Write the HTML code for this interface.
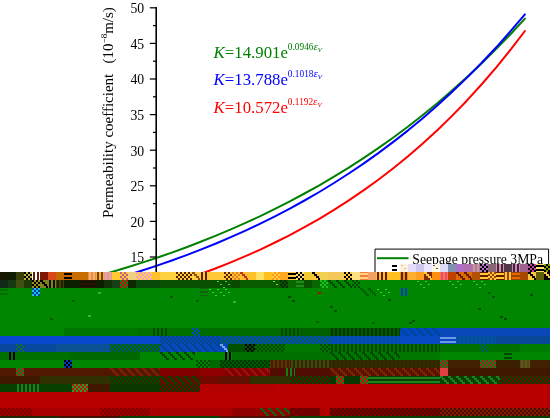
<!DOCTYPE html><html><head><meta charset="utf-8"><title>Permeability coefficient</title>
<style>html,body{margin:0;padding:0;background:#fff}svg{display:block}text{font-family:"Liberation Serif","Times New Roman",serif}</style></head><body>
<svg width="550" height="418" viewBox="0 0 550 418">
<rect width="550" height="418" fill="#fff"/>
<path d="M68.5 283.9 L83.2 280.1 L98.0 276.0 L112.7 271.7 L127.5 267.3 L142.2 262.6 L157.0 257.7 L171.8 252.6 L186.5 247.2 L201.3 241.5 L216.0 235.6 L230.8 229.4 L245.5 222.9 L260.3 216.1 L275.0 208.9 L289.8 201.4 L304.5 193.5 L319.3 185.3 L334.0 176.6 L348.8 167.6 L363.5 158.1 L378.3 148.1 L393.0 137.7 L407.8 126.7 L422.5 115.2 L437.3 103.2 L452.0 90.6 L466.8 77.3 L481.5 63.5 L496.3 48.9 L511.0 33.7 L524.9 18.6" fill="none" stroke="#008000" stroke-width="2" stroke-linejoin="round" stroke-linecap="round"/>
<path d="M68.5 291.5 L83.2 287.7 L98.0 283.7 L112.7 279.5 L127.5 275.1 L142.2 270.5 L157.0 265.6 L171.8 260.5 L186.5 255.1 L201.3 249.4 L216.0 243.5 L230.8 237.2 L245.5 230.6 L260.3 223.6 L275.0 216.3 L289.8 208.6 L304.5 200.5 L319.3 192.0 L334.0 183.0 L348.8 173.5 L363.5 163.6 L378.3 153.1 L393.0 142.1 L407.8 130.6 L422.5 118.4 L437.3 105.6 L452.0 92.1 L466.8 77.9 L481.5 63.0 L496.3 47.3 L511.0 30.7 L524.9 14.4" fill="none" stroke="#0000ff" stroke-width="2" stroke-linejoin="round" stroke-linecap="round"/>
<path d="M68.5 311.2 L83.2 307.9 L98.0 304.5 L112.7 300.9 L127.5 297.0 L142.2 292.9 L157.0 288.5 L171.8 283.9 L186.5 279.0 L201.3 273.8 L216.0 268.3 L230.8 262.4 L245.5 256.2 L260.3 249.6 L275.0 242.5 L289.8 235.1 L304.5 227.2 L319.3 218.8 L334.0 209.9 L348.8 200.4 L363.5 190.4 L378.3 179.8 L393.0 168.5 L407.8 156.5 L422.5 143.7 L437.3 130.2 L452.0 115.9 L466.8 100.7 L481.5 84.5 L496.3 67.3 L511.0 49.1 L524.9 31.0" fill="none" stroke="#ff0000" stroke-width="2" stroke-linejoin="round" stroke-linecap="round"/>
<path d="M156.2 7.3V290" stroke="#000" stroke-width="1.6" fill="none"/>
<path d="M149.8 7.8H157" stroke="#000" stroke-width="1.25"/>
<text x="144.2" y="13.1" font-size="13.7" text-anchor="end">50</text>
<path d="M153 25.6H157" stroke="#000" stroke-width="1.25"/>
<path d="M149.8 43.4H157" stroke="#000" stroke-width="1.25"/>
<text x="144.2" y="48.7" font-size="13.7" text-anchor="end">45</text>
<path d="M153 61.2H157" stroke="#000" stroke-width="1.25"/>
<path d="M149.8 79.0H157" stroke="#000" stroke-width="1.25"/>
<text x="144.2" y="84.3" font-size="13.7" text-anchor="end">40</text>
<path d="M153 96.8H157" stroke="#000" stroke-width="1.25"/>
<path d="M149.8 114.6H157" stroke="#000" stroke-width="1.25"/>
<text x="144.2" y="119.9" font-size="13.7" text-anchor="end">35</text>
<path d="M153 132.4H157" stroke="#000" stroke-width="1.25"/>
<path d="M149.8 150.2H157" stroke="#000" stroke-width="1.25"/>
<text x="144.2" y="155.5" font-size="13.7" text-anchor="end">30</text>
<path d="M153 168.0H157" stroke="#000" stroke-width="1.25"/>
<path d="M149.8 185.8H157" stroke="#000" stroke-width="1.25"/>
<text x="144.2" y="191.1" font-size="13.7" text-anchor="end">25</text>
<path d="M153 203.6H157" stroke="#000" stroke-width="1.25"/>
<path d="M149.8 221.4H157" stroke="#000" stroke-width="1.25"/>
<text x="144.2" y="226.7" font-size="13.7" text-anchor="end">20</text>
<path d="M153 239.2H157" stroke="#000" stroke-width="1.25"/>
<path d="M149.8 257.0H157" stroke="#000" stroke-width="1.25"/>
<text x="144.2" y="262.3" font-size="13.7" text-anchor="end">15</text>
<path d="M153 274.8H157" stroke="#000" stroke-width="1.25"/>
<text transform="translate(113.0 218.0) rotate(-90)" font-size="15">Permeability coefficient</text>
<text transform="translate(113.0 63.4) rotate(-90)" font-size="15">(10<tspan font-size="9" dy="-6">−8</tspan><tspan dy="6">m/s)</tspan></text>
<text x="213.6" y="57.5" font-size="16.8" fill="#008000"><tspan font-style="italic">K</tspan>=14.901e<tspan font-size="9.3" dy="-7.6">0.0946</tspan><tspan font-size="11" font-style="italic">ε</tspan><tspan font-size="6.8" font-style="italic" dy="1.8">V</tspan></text>
<text x="213.6" y="84.9" font-size="16.8" fill="#0000ff"><tspan font-style="italic">K</tspan>=13.788e<tspan font-size="9.3" dy="-7.6">0.1018</tspan><tspan font-size="11" font-style="italic">ε</tspan><tspan font-size="6.8" font-style="italic" dy="1.8">V</tspan></text>
<text x="213.6" y="112.7" font-size="16.8" fill="#ff0000"><tspan font-style="italic">K</tspan>=10.572e<tspan font-size="9.3" dy="-7.6">0.1192</tspan><tspan font-size="11" font-style="italic">ε</tspan><tspan font-size="6.8" font-style="italic" dy="1.8">V</tspan></text>
<path d="M375 272V249.1H548.6V272" fill="none" stroke="#000" stroke-width="1"/>
<path d="M377 258.2H408.5" stroke="#008000" stroke-width="2"/>
<text x="412.3" y="263.8" font-size="13.7">Seepage pressure 3MPa</text>
<rect x="392" y="264" width="5" height="8" fill="#ffffff"/>
<path d="M392 265h5v2h-5zM392 269h5v2h-5z" fill="#000000"/>
<rect x="397" y="264" width="3" height="8" fill="#ffffff"/>
<rect x="400" y="264" width="8" height="8" fill="#fff0d8"/>
<path d="M401 265h2v1h-2zM404 268h2v1h-2z" fill="#e8b0d0"/>
<rect x="408" y="264" width="8" height="8" fill="#e4dcf8"/>
<rect x="416" y="264" width="8" height="8" fill="#cfc6f0"/>
<rect x="424" y="264" width="8" height="8" fill="#ece6ff"/>
<rect x="432" y="264" width="8" height="8" fill="#fffae0"/>
<path d="M433 265h2v1h-2zM436 268h2v1h-2z" fill="#4050a0"/>
<rect x="440" y="264" width="8" height="8" fill="#dcdcf8"/>
<rect x="448" y="264" width="8" height="8" fill="#8090b0"/>
<rect x="456" y="264" width="8" height="8" fill="#b070c8"/>
<rect x="464" y="264" width="8" height="8" fill="#b070b0"/>
<rect x="472" y="264" width="8" height="8" fill="#b070c8"/>
<path d="M473 264h2v8h-2zM477 264h2v8h-2z" fill="#c8a070"/>
<rect x="480" y="264" width="8" height="8" fill="#b070c8"/>
<path d="M480 264h2v2h-2zM484 264h2v2h-2zM482 266h2v2h-2zM486 266h2v2h-2zM480 268h2v2h-2zM484 268h2v2h-2zM482 270h2v2h-2zM486 270h2v2h-2z" fill="#000000"/>
<rect x="488" y="264" width="8" height="8" fill="#886474"/>
<rect x="496" y="264" width="8" height="8" fill="#c898a8"/>
<path d="M497 264h2v8h-2zM501 264h2v8h-2z" fill="#502040"/>
<rect x="504" y="264" width="8" height="8" fill="#503848"/>
<rect x="512" y="264" width="8" height="8" fill="#c888a8"/>
<path d="M513 264h2v8h-2zM517 264h2v8h-2z" fill="#402048"/>
<rect x="520" y="264" width="8" height="8" fill="#a06090"/>
<rect x="528" y="264" width="8" height="8" fill="#c040a0"/>
<path d="M528 264h2v2h-2zM532 264h2v2h-2zM530 266h2v2h-2zM534 266h2v2h-2zM528 268h2v2h-2zM532 268h2v2h-2zM530 270h2v2h-2zM534 270h2v2h-2z" fill="#000000"/>
<rect x="536" y="264" width="8" height="8" fill="#ffe070"/>
<path d="M536 265h8v2h-8zM536 269h8v2h-8z" fill="#000000"/>
<rect x="544" y="264" width="6" height="8" fill="#000000"/>
<path d="M544 264h2v2h-2zM548 264h2v2h-2zM546 266h2v2h-2zM544 268h2v2h-2zM548 268h2v2h-2zM546 270h2v2h-2z" fill="#80a000"/>
<rect x="0" y="272" width="8" height="8" fill="#181800"/>
<rect x="8" y="272" width="8" height="8" fill="#0c1c00"/>
<rect x="16" y="272" width="8" height="8" fill="#384008"/>
<rect x="24" y="272" width="8" height="8" fill="#c0b040"/>
<path d="M24 272h2v2h-2zM28 272h2v2h-2zM26 274h2v2h-2zM30 274h2v2h-2zM24 276h2v2h-2zM28 276h2v2h-2zM26 278h2v2h-2zM30 278h2v2h-2z" fill="#000000"/>
<rect x="32" y="272" width="8" height="8" fill="#ffffff"/>
<path d="M33 272h2v8h-2zM37 272h2v8h-2z" fill="#602000"/>
<rect x="40" y="272" width="8" height="8" fill="#801808"/>
<rect x="48" y="272" width="8" height="8" fill="#d84818"/>
<rect x="56" y="272" width="8" height="8" fill="#c46800"/>
<rect x="64" y="272" width="8" height="8" fill="#c46800"/>
<path d="M64 273h8v2h-8zM64 277h8v2h-8z" fill="#000000"/>
<rect x="72" y="272" width="16" height="8" fill="#c86c00"/>
<rect x="88" y="272" width="8" height="8" fill="#e89048"/>
<path d="M89 272h2v8h-2zM93 272h2v8h-2z" fill="#f0b070"/>
<rect x="96" y="272" width="8" height="8" fill="#f0b040"/>
<path d="M97 272h2v8h-2zM101 272h2v8h-2z" fill="#804000"/>
<rect x="104" y="272" width="8" height="8" fill="#e8a070"/>
<path d="M105 272h2v8h-2zM109 272h2v8h-2z" fill="#e0a0c0"/>
<rect x="112" y="272" width="8" height="8" fill="#ffc830"/>
<rect x="120" y="272" width="8" height="8" fill="#ffc83c"/>
<path d="M120 272h2v2h-2zM124 272h2v2h-2zM122 274h2v2h-2zM126 274h2v2h-2zM120 276h2v2h-2zM124 276h2v2h-2zM122 278h2v2h-2zM126 278h2v2h-2z" fill="#c06080"/>
<rect x="128" y="272" width="8" height="8" fill="#f0d080"/>
<rect x="136" y="272" width="16" height="8" fill="#ffd050"/>
<path d="M136 272h2v2h-2zM140 272h2v2h-2zM144 272h2v2h-2zM148 272h2v2h-2zM138 274h2v2h-2zM142 274h2v2h-2zM146 274h2v2h-2zM150 274h2v2h-2zM136 276h2v2h-2zM140 276h2v2h-2zM144 276h2v2h-2zM148 276h2v2h-2zM138 278h2v2h-2zM142 278h2v2h-2zM146 278h2v2h-2zM150 278h2v2h-2z" fill="#f0a0c0"/>
<rect x="152" y="272" width="8" height="8" fill="#ffc030"/>
<rect x="160" y="272" width="16" height="8" fill="#ffd040"/>
<rect x="176" y="272" width="16" height="8" fill="#ffd040"/>
<path d="M176 272h2v2h-2zM180 272h2v2h-2zM184 272h2v2h-2zM188 272h2v2h-2zM178 274h2v2h-2zM182 274h2v2h-2zM186 274h2v2h-2zM190 274h2v2h-2zM176 276h2v2h-2zM180 276h2v2h-2zM184 276h2v2h-2zM188 276h2v2h-2zM178 278h2v2h-2zM182 278h2v2h-2zM186 278h2v2h-2zM190 278h2v2h-2z" fill="#502000"/>
<rect x="192" y="272" width="8" height="8" fill="#ffd040"/>
<path d="M192 272h3v2h-3zM194 274h3v2h-3zM196 276h3v2h-3zM198 278h3v2h-3z" fill="#905010"/>
<rect x="200" y="272" width="8" height="8" fill="#ffc83c"/>
<path d="M201 272h2v8h-2zM205 272h2v8h-2z" fill="#602000"/>
<rect x="208" y="272" width="16" height="8" fill="#ffc838"/>
<rect x="224" y="272" width="8" height="8" fill="#ffc83c"/>
<path d="M224 272h2v2h-2zM228 272h2v2h-2zM226 274h2v2h-2zM230 274h2v2h-2zM224 276h2v2h-2zM228 276h2v2h-2zM226 278h2v2h-2zM230 278h2v2h-2z" fill="#602000"/>
<rect x="232" y="272" width="8" height="8" fill="#ffc030"/>
<path d="M232 272h2v2h-2zM236 272h2v2h-2zM234 274h2v2h-2zM238 274h2v2h-2zM232 276h2v2h-2zM236 276h2v2h-2zM234 278h2v2h-2zM238 278h2v2h-2z" fill="#e08020"/>
<rect x="240" y="272" width="8" height="8" fill="#ffc030"/>
<path d="M240 272h3v2h-3zM242 274h3v2h-3zM244 276h3v2h-3zM246 278h3v2h-3z" fill="#c03020"/>
<rect x="248" y="272" width="8" height="8" fill="#ffc028"/>
<rect x="256" y="272" width="8" height="8" fill="#ffe060"/>
<rect x="264" y="272" width="8" height="8" fill="#ffc020"/>
<rect x="272" y="272" width="8" height="8" fill="#ff9818"/>
<path d="M272 272h2v2h-2zM276 272h2v2h-2zM274 274h2v2h-2zM278 274h2v2h-2zM272 276h2v2h-2zM276 276h2v2h-2zM274 278h2v2h-2zM278 278h2v2h-2z" fill="#ffd040"/>
<rect x="280" y="272" width="8" height="8" fill="#ffa820"/>
<rect x="288" y="272" width="8" height="8" fill="#ffc83c"/>
<path d="M288 273h8v2h-8zM288 277h8v2h-8z" fill="#000000"/>
<rect x="296" y="272" width="8" height="8" fill="#ffe070"/>
<path d="M296 272h2v2h-2zM300 272h2v2h-2zM298 274h2v2h-2zM302 274h2v2h-2zM296 276h2v2h-2zM300 276h2v2h-2zM298 278h2v2h-2zM302 278h2v2h-2z" fill="#000000"/>
<rect x="304" y="272" width="8" height="8" fill="#f0c830"/>
<rect x="312" y="272" width="8" height="8" fill="#ffc83c"/>
<path d="M312 272h3v2h-3zM314 274h3v2h-3zM316 276h3v2h-3zM318 278h3v2h-3z" fill="#000000"/>
<rect x="320" y="272" width="8" height="8" fill="#f0d050"/>
<rect x="328" y="272" width="16" height="8" fill="#f4c858"/>
<rect x="344" y="272" width="8" height="8" fill="#ffc83c"/>
<path d="M344 272h2v2h-2zM348 272h2v2h-2zM346 274h2v2h-2zM350 274h2v2h-2zM344 276h2v2h-2zM348 276h2v2h-2zM346 278h2v2h-2zM350 278h2v2h-2z" fill="#000000"/>
<rect x="352" y="272" width="8" height="8" fill="#ffe080"/>
<rect x="360" y="272" width="8" height="8" fill="#f08040"/>
<path d="M360 273h8v2h-8zM360 277h8v2h-8z" fill="#ffd080"/>
<rect x="368" y="272" width="8" height="8" fill="#f0a060"/>
<rect x="376" y="272" width="12" height="8" fill="#ffc030"/>
<path d="M377 272h2v8h-2zM381 272h2v8h-2zM385 272h2v8h-2z" fill="#602000"/>
<rect x="388" y="272" width="12" height="8" fill="#ffc020"/>
<rect x="400" y="272" width="8" height="8" fill="#f08c10"/>
<path d="M401 272h2v8h-2zM405 272h2v8h-2z" fill="#602000"/>
<rect x="408" y="272" width="8" height="8" fill="#ffb030"/>
<rect x="416" y="272" width="8" height="8" fill="#ffa020"/>
<rect x="424" y="272" width="8" height="8" fill="#802800"/>
<path d="M424 272h3v2h-3zM426 274h3v2h-3zM428 276h3v2h-3zM430 278h3v2h-3z" fill="#ffc83c"/>
<rect x="432" y="272" width="8" height="8" fill="#ff9010"/>
<rect x="440" y="272" width="8" height="8" fill="#ff8000"/>
<path d="M441 272h2v8h-2zM445 272h2v8h-2z" fill="#e040c0"/>
<rect x="448" y="272" width="8" height="8" fill="#c04000"/>
<rect x="456" y="272" width="16" height="8" fill="#e06800"/>
<path d="M456 272h3v2h-3zM464 272h3v2h-3zM458 274h3v2h-3zM466 274h3v2h-3zM460 276h3v2h-3zM468 276h3v2h-3zM462 278h3v2h-3zM470 278h3v2h-3z" fill="#602000"/>
<rect x="472" y="272" width="8" height="8" fill="#b05000"/>
<rect x="480" y="272" width="8" height="8" fill="#602000"/>
<path d="M480 273h8v2h-8zM480 277h8v2h-8z" fill="#ffc83c"/>
<rect x="488" y="272" width="8" height="8" fill="#9c4400"/>
<path d="M488 272h2v2h-2zM492 272h2v2h-2zM490 274h2v2h-2zM494 274h2v2h-2zM488 276h2v2h-2zM492 276h2v2h-2zM490 278h2v2h-2zM494 278h2v2h-2z" fill="#ffc83c"/>
<rect x="496" y="272" width="8" height="8" fill="#602000"/>
<path d="M496 273h8v2h-8zM496 277h8v2h-8z" fill="#ffc83c"/>
<rect x="504" y="272" width="8" height="8" fill="#9c4400"/>
<path d="M505 272h2v8h-2zM509 272h2v8h-2z" fill="#ffc83c"/>
<rect x="512" y="272" width="8" height="8" fill="#9c4400"/>
<path d="M512 273h8v2h-8zM512 277h8v2h-8z" fill="#e06800"/>
<rect x="520" y="272" width="8" height="8" fill="#a84800"/>
<rect x="528" y="272" width="8" height="8" fill="#ffc83c"/>
<path d="M528 272h3v2h-3zM530 274h3v2h-3zM532 276h3v2h-3zM534 278h3v2h-3z" fill="#000000"/>
<rect x="536" y="272" width="8" height="8" fill="#606000"/>
<rect x="544" y="272" width="6" height="8" fill="#000000"/>
<path d="M544 272h3v2h-3zM546 274h3v2h-3zM548 276h3v2h-3z" fill="#ffc83c"/>
<rect x="0" y="280" width="8" height="8" fill="#102818"/>
<rect x="8" y="280" width="8" height="8" fill="#183810"/>
<rect x="16" y="280" width="8" height="8" fill="#405010"/>
<rect x="24" y="280" width="8" height="8" fill="#203808"/>
<rect x="32" y="280" width="8" height="8" fill="#a09020"/>
<path d="M32 280h2v2h-2zM36 280h2v2h-2zM34 282h2v2h-2zM38 282h2v2h-2zM32 284h2v2h-2zM36 284h2v2h-2zM34 286h2v2h-2zM38 286h2v2h-2z" fill="#000000"/>
<rect x="40" y="280" width="8" height="8" fill="#808020"/>
<path d="M40 280h3v2h-3zM42 282h3v2h-3zM44 284h3v2h-3zM46 286h3v2h-3z" fill="#000000"/>
<rect x="48" y="280" width="8" height="8" fill="#808020"/>
<path d="M49 280h2v8h-2zM53 280h2v8h-2z" fill="#101000"/>
<rect x="56" y="280" width="8" height="8" fill="#404000"/>
<path d="M57 280h2v8h-2zM61 280h2v8h-2z" fill="#202000"/>
<rect x="64" y="280" width="16" height="8" fill="#0c2000"/>
<rect x="80" y="280" width="16" height="8" fill="#301000"/>
<path d="M80 281h16v2h-16zM80 285h16v2h-16z" fill="#0c1800"/>
<rect x="96" y="280" width="8" height="8" fill="#0c2000"/>
<rect x="104" y="280" width="8" height="8" fill="#103008"/>
<rect x="112" y="280" width="8" height="8" fill="#184018"/>
<rect x="120" y="280" width="8" height="8" fill="#c01010"/>
<path d="M120 280h2v2h-2zM124 280h2v2h-2zM122 282h2v2h-2zM126 282h2v2h-2zM120 284h2v2h-2zM124 284h2v2h-2zM122 286h2v2h-2zM126 286h2v2h-2z" fill="#108010"/>
<rect x="128" y="280" width="8" height="8" fill="#0c2800"/>
<rect x="136" y="280" width="24" height="8" fill="#084808"/>
<rect x="160" y="280" width="56" height="8" fill="#085000"/>
<rect x="216" y="280" width="16" height="8" fill="#0a5000"/>
<path d="M217 281h2v1h-2zM225 281h2v1h-2zM220 284h2v1h-2zM228 284h2v1h-2zM223 287h2v1h-2z" fill="#40d040"/>
<rect x="232" y="280" width="8" height="8" fill="#084800"/>
<rect x="240" y="280" width="32" height="8" fill="#0a5c00"/>
<rect x="272" y="280" width="8" height="8" fill="#0a5800"/>
<path d="M273 281h2v1h-2zM276 284h2v1h-2z" fill="#80e020"/>
<rect x="280" y="280" width="8" height="8" fill="#0a5000"/>
<path d="M280 280h2v2h-2zM284 280h2v2h-2zM282 282h2v2h-2zM286 282h2v2h-2zM280 284h2v2h-2zM284 284h2v2h-2zM282 286h2v2h-2zM286 286h2v2h-2z" fill="#083000"/>
<rect x="288" y="280" width="8" height="8" fill="#0a6800"/>
<rect x="296" y="280" width="8" height="8" fill="#0a6800"/>
<path d="M296 281h8v2h-8zM296 285h8v2h-8z" fill="#208820"/>
<rect x="304" y="280" width="8" height="8" fill="#085000"/>
<rect x="312" y="280" width="8" height="8" fill="#0a6800"/>
<rect x="320" y="280" width="8" height="8" fill="#008600"/>
<path d="M320 280h2v2h-2zM324 280h2v2h-2zM322 282h2v2h-2zM326 282h2v2h-2zM320 284h2v2h-2zM324 284h2v2h-2zM322 286h2v2h-2zM326 286h2v2h-2z" fill="#20c020"/>
<rect x="328" y="280" width="24" height="8" fill="#008600"/>
<path d="M328 280h3v2h-3zM336 280h3v2h-3zM344 280h3v2h-3zM330 282h3v2h-3zM338 282h3v2h-3zM346 282h3v2h-3zM332 284h3v2h-3zM340 284h3v2h-3zM348 284h3v2h-3zM334 286h3v2h-3zM342 286h3v2h-3zM350 286h3v2h-3z" fill="#004a00"/>
<rect x="352" y="280" width="8" height="8" fill="#008600"/>
<path d="M352 280h2v2h-2zM356 280h2v2h-2zM354 282h2v2h-2zM358 282h2v2h-2zM352 284h2v2h-2zM356 284h2v2h-2zM354 286h2v2h-2zM358 286h2v2h-2z" fill="#004a00"/>
<rect x="360" y="280" width="56" height="8" fill="#008600"/>
<rect x="416" y="280" width="16" height="8" fill="#008600"/>
<path d="M417 281h2v1h-2zM425 281h2v1h-2zM420 284h2v1h-2zM428 284h2v1h-2zM423 287h2v1h-2z" fill="#30d030"/>
<rect x="432" y="280" width="16" height="8" fill="#008600"/>
<rect x="448" y="280" width="16" height="8" fill="#008600"/>
<path d="M449 281h2v1h-2zM457 281h2v1h-2zM452 284h2v1h-2zM460 284h2v1h-2zM455 287h2v1h-2z" fill="#30d030"/>
<rect x="464" y="280" width="8" height="8" fill="#008600"/>
<rect x="472" y="280" width="16" height="8" fill="#008600"/>
<path d="M473 281h2v1h-2zM481 281h2v1h-2zM476 284h2v1h-2zM484 284h2v1h-2zM479 287h2v1h-2z" fill="#30d030"/>
<rect x="488" y="280" width="62" height="8" fill="#008600"/>
<rect x="0" y="288" width="550" height="40" fill="#008600"/>
<rect x="0" y="288" width="8" height="8" fill="#008600"/>
<path d="M0 289h8v2h-8zM0 293h8v2h-8z" fill="#006c00"/>
<rect x="8" y="288" width="24" height="8" fill="#008600"/>
<rect x="32" y="288" width="8" height="8" fill="#20c0e0"/>
<path d="M32 288h2v2h-2zM36 288h2v2h-2zM34 290h2v2h-2zM38 290h2v2h-2zM32 292h2v2h-2zM36 292h2v2h-2zM34 294h2v2h-2zM38 294h2v2h-2z" fill="#0040a0"/>
<rect x="40" y="288" width="160" height="8" fill="#008600"/>
<rect x="200" y="288" width="8" height="8" fill="#106010"/>
<path d="M200 289h8v2h-8zM200 293h8v2h-8z" fill="#008600"/>
<rect x="208" y="288" width="24" height="8" fill="#008600"/>
<path d="M209 289h2v1h-2zM217 289h2v1h-2zM225 289h2v1h-2zM212 292h2v1h-2zM220 292h2v1h-2zM228 292h2v1h-2zM215 295h2v1h-2zM223 295h2v1h-2z" fill="#30e030"/>
<rect x="232" y="288" width="128" height="8" fill="#008600"/>
<rect x="360" y="288" width="16" height="8" fill="#008600"/>
<path d="M360 288h3v2h-3zM368 288h3v2h-3zM362 290h3v2h-3zM370 290h3v2h-3zM364 292h3v2h-3zM372 292h3v2h-3zM366 294h3v2h-3zM374 294h3v2h-3z" fill="#006000"/>
<rect x="376" y="288" width="16" height="8" fill="#008600"/>
<path d="M377 289h2v1h-2zM385 289h2v1h-2zM380 292h2v1h-2zM388 292h2v1h-2zM383 295h2v1h-2z" fill="#30e030"/>
<rect x="392" y="288" width="8" height="8" fill="#008600"/>
<rect x="400" y="288" width="8" height="8" fill="#008600"/>
<path d="M401 288h2v8h-2zM405 288h2v8h-2z" fill="#0040c0"/>
<rect x="408" y="288" width="142" height="8" fill="#008600"/>
<rect x="0" y="328" width="64" height="8" fill="#008600"/>
<rect x="64" y="328" width="74" height="8" fill="#007600"/>
<rect x="138" y="328" width="14" height="8" fill="#007000"/>
<rect x="152" y="328" width="16" height="8" fill="#007000"/>
<path d="M153 328h2v8h-2zM157 328h2v8h-2zM161 328h2v8h-2zM165 328h2v8h-2z" fill="#004a00"/>
<rect x="168" y="328" width="24" height="8" fill="#007000"/>
<rect x="192" y="328" width="8" height="8" fill="#007000"/>
<path d="M192 328h2v2h-2zM196 328h2v2h-2zM194 330h2v2h-2zM198 330h2v2h-2zM192 332h2v2h-2zM196 332h2v2h-2zM194 334h2v2h-2zM198 334h2v2h-2z" fill="#0048c8"/>
<rect x="200" y="328" width="80" height="8" fill="#006c00"/>
<rect x="280" y="328" width="20" height="8" fill="#006c00"/>
<path d="M281 328h2v8h-2zM285 328h2v8h-2zM289 328h2v8h-2zM293 328h2v8h-2zM297 328h2v8h-2z" fill="#004a00"/>
<rect x="300" y="328" width="30" height="8" fill="#006000"/>
<rect x="330" y="328" width="70" height="8" fill="#005800"/>
<path d="M331 328h2v8h-2zM335 328h2v8h-2zM339 328h2v8h-2zM343 328h2v8h-2zM347 328h2v8h-2zM351 328h2v8h-2zM355 328h2v8h-2zM359 328h2v8h-2zM363 328h2v8h-2zM367 328h2v8h-2zM371 328h2v8h-2zM375 328h2v8h-2zM379 328h2v8h-2zM383 328h2v8h-2zM387 328h2v8h-2zM391 328h2v8h-2zM395 328h2v8h-2zM399 328h2v8h-2z" fill="#003800"/>
<rect x="400" y="328" width="40" height="8" fill="#0048c8"/>
<path d="M400 328h3v2h-3zM408 328h3v2h-3zM416 328h3v2h-3zM424 328h3v2h-3zM432 328h3v2h-3zM402 330h3v2h-3zM410 330h3v2h-3zM418 330h3v2h-3zM426 330h3v2h-3zM434 330h3v2h-3zM404 332h3v2h-3zM412 332h3v2h-3zM420 332h3v2h-3zM428 332h3v2h-3zM436 332h3v2h-3zM406 334h3v2h-3zM414 334h3v2h-3zM422 334h3v2h-3zM430 334h3v2h-3zM438 334h3v2h-3z" fill="#00468c"/>
<rect x="440" y="328" width="110" height="8" fill="#0848b8"/>
<rect x="0" y="336" width="160" height="8" fill="#0848d0"/>
<rect x="160" y="336" width="60" height="8" fill="#0848b8"/>
<path d="M160 336h2v2h-2zM164 336h2v2h-2zM168 336h2v2h-2zM172 336h2v2h-2zM176 336h2v2h-2zM180 336h2v2h-2zM184 336h2v2h-2zM188 336h2v2h-2zM192 336h2v2h-2zM196 336h2v2h-2zM200 336h2v2h-2zM204 336h2v2h-2zM208 336h2v2h-2zM212 336h2v2h-2zM216 336h2v2h-2zM162 338h2v2h-2zM166 338h2v2h-2zM170 338h2v2h-2zM174 338h2v2h-2zM178 338h2v2h-2zM182 338h2v2h-2zM186 338h2v2h-2zM190 338h2v2h-2zM194 338h2v2h-2zM198 338h2v2h-2zM202 338h2v2h-2zM206 338h2v2h-2zM210 338h2v2h-2zM214 338h2v2h-2zM218 338h2v2h-2zM160 340h2v2h-2zM164 340h2v2h-2zM168 340h2v2h-2zM172 340h2v2h-2zM176 340h2v2h-2zM180 340h2v2h-2zM184 340h2v2h-2zM188 340h2v2h-2zM192 340h2v2h-2zM196 340h2v2h-2zM200 340h2v2h-2zM204 340h2v2h-2zM208 340h2v2h-2zM212 340h2v2h-2zM216 340h2v2h-2zM162 342h2v2h-2zM166 342h2v2h-2zM170 342h2v2h-2zM174 342h2v2h-2zM178 342h2v2h-2zM182 342h2v2h-2zM186 342h2v2h-2zM190 342h2v2h-2zM194 342h2v2h-2zM198 342h2v2h-2zM202 342h2v2h-2zM206 342h2v2h-2zM210 342h2v2h-2zM214 342h2v2h-2zM218 342h2v2h-2z" fill="#00468c"/>
<rect x="220" y="336" width="110" height="8" fill="#0848b0"/>
<path d="M220 336h2v2h-2zM224 336h2v2h-2zM228 336h2v2h-2zM232 336h2v2h-2zM236 336h2v2h-2zM240 336h2v2h-2zM244 336h2v2h-2zM248 336h2v2h-2zM252 336h2v2h-2zM256 336h2v2h-2zM260 336h2v2h-2zM264 336h2v2h-2zM268 336h2v2h-2zM272 336h2v2h-2zM276 336h2v2h-2zM280 336h2v2h-2zM284 336h2v2h-2zM288 336h2v2h-2zM292 336h2v2h-2zM296 336h2v2h-2zM300 336h2v2h-2zM304 336h2v2h-2zM308 336h2v2h-2zM312 336h2v2h-2zM316 336h2v2h-2zM320 336h2v2h-2zM324 336h2v2h-2zM328 336h2v2h-2zM222 338h2v2h-2zM226 338h2v2h-2zM230 338h2v2h-2zM234 338h2v2h-2zM238 338h2v2h-2zM242 338h2v2h-2zM246 338h2v2h-2zM250 338h2v2h-2zM254 338h2v2h-2zM258 338h2v2h-2zM262 338h2v2h-2zM266 338h2v2h-2zM270 338h2v2h-2zM274 338h2v2h-2zM278 338h2v2h-2zM282 338h2v2h-2zM286 338h2v2h-2zM290 338h2v2h-2zM294 338h2v2h-2zM298 338h2v2h-2zM302 338h2v2h-2zM306 338h2v2h-2zM310 338h2v2h-2zM314 338h2v2h-2zM318 338h2v2h-2zM322 338h2v2h-2zM326 338h2v2h-2zM220 340h2v2h-2zM224 340h2v2h-2zM228 340h2v2h-2zM232 340h2v2h-2zM236 340h2v2h-2zM240 340h2v2h-2zM244 340h2v2h-2zM248 340h2v2h-2zM252 340h2v2h-2zM256 340h2v2h-2zM260 340h2v2h-2zM264 340h2v2h-2zM268 340h2v2h-2zM272 340h2v2h-2zM276 340h2v2h-2zM280 340h2v2h-2zM284 340h2v2h-2zM288 340h2v2h-2zM292 340h2v2h-2zM296 340h2v2h-2zM300 340h2v2h-2zM304 340h2v2h-2zM308 340h2v2h-2zM312 340h2v2h-2zM316 340h2v2h-2zM320 340h2v2h-2zM324 340h2v2h-2zM328 340h2v2h-2zM222 342h2v2h-2zM226 342h2v2h-2zM230 342h2v2h-2zM234 342h2v2h-2zM238 342h2v2h-2zM242 342h2v2h-2zM246 342h2v2h-2zM250 342h2v2h-2zM254 342h2v2h-2zM258 342h2v2h-2zM262 342h2v2h-2zM266 342h2v2h-2zM270 342h2v2h-2zM274 342h2v2h-2zM278 342h2v2h-2zM282 342h2v2h-2zM286 342h2v2h-2zM290 342h2v2h-2zM294 342h2v2h-2zM298 342h2v2h-2zM302 342h2v2h-2zM306 342h2v2h-2zM310 342h2v2h-2zM314 342h2v2h-2zM318 342h2v2h-2zM322 342h2v2h-2zM326 342h2v2h-2z" fill="#00605a"/>
<rect x="330" y="336" width="70" height="8" fill="#08509a"/>
<path d="M331 336h2v8h-2zM335 336h2v8h-2zM339 336h2v8h-2zM343 336h2v8h-2zM347 336h2v8h-2zM351 336h2v8h-2zM355 336h2v8h-2zM359 336h2v8h-2zM363 336h2v8h-2zM367 336h2v8h-2zM371 336h2v8h-2zM375 336h2v8h-2zM379 336h2v8h-2zM383 336h2v8h-2zM387 336h2v8h-2zM391 336h2v8h-2zM395 336h2v8h-2zM399 336h2v8h-2z" fill="#0048c8"/>
<rect x="400" y="336" width="40" height="8" fill="#0848c0"/>
<rect x="440" y="336" width="16" height="8" fill="#0848c0"/>
<path d="M440 337h16v2h-16zM440 341h16v2h-16z" fill="#7098e8"/>
<rect x="456" y="336" width="40" height="8" fill="#085878"/>
<path d="M457 336h2v8h-2zM461 336h2v8h-2zM465 336h2v8h-2zM469 336h2v8h-2zM473 336h2v8h-2zM477 336h2v8h-2zM481 336h2v8h-2zM485 336h2v8h-2zM489 336h2v8h-2zM493 336h2v8h-2z" fill="#0048c8"/>
<rect x="496" y="336" width="54" height="8" fill="#084898"/>
<rect x="0" y="344" width="16" height="8" fill="#08489c"/>
<rect x="16" y="344" width="8" height="8" fill="#08489c"/>
<path d="M16 344h2v2h-2zM20 344h2v2h-2zM18 346h2v2h-2zM22 346h2v2h-2zM16 348h2v2h-2zM20 348h2v2h-2zM18 350h2v2h-2zM22 350h2v2h-2z" fill="#107030"/>
<rect x="24" y="344" width="32" height="8" fill="#084aa0"/>
<rect x="56" y="344" width="54" height="8" fill="#0a5094"/>
<rect x="110" y="344" width="50" height="8" fill="#085070"/>
<path d="M110 344h2v2h-2zM114 344h2v2h-2zM118 344h2v2h-2zM122 344h2v2h-2zM126 344h2v2h-2zM130 344h2v2h-2zM134 344h2v2h-2zM138 344h2v2h-2zM142 344h2v2h-2zM146 344h2v2h-2zM150 344h2v2h-2zM154 344h2v2h-2zM158 344h2v2h-2zM112 346h2v2h-2zM116 346h2v2h-2zM120 346h2v2h-2zM124 346h2v2h-2zM128 346h2v2h-2zM132 346h2v2h-2zM136 346h2v2h-2zM140 346h2v2h-2zM144 346h2v2h-2zM148 346h2v2h-2zM152 346h2v2h-2zM156 346h2v2h-2zM110 348h2v2h-2zM114 348h2v2h-2zM118 348h2v2h-2zM122 348h2v2h-2zM126 348h2v2h-2zM130 348h2v2h-2zM134 348h2v2h-2zM138 348h2v2h-2zM142 348h2v2h-2zM146 348h2v2h-2zM150 348h2v2h-2zM154 348h2v2h-2zM158 348h2v2h-2zM112 350h2v2h-2zM116 350h2v2h-2zM120 350h2v2h-2zM124 350h2v2h-2zM128 350h2v2h-2zM132 350h2v2h-2zM136 350h2v2h-2zM140 350h2v2h-2zM144 350h2v2h-2zM148 350h2v2h-2zM152 350h2v2h-2zM156 350h2v2h-2z" fill="#006c00"/>
<rect x="160" y="344" width="60" height="8" fill="#0848c0"/>
<path d="M160 344h3v2h-3zM168 344h3v2h-3zM176 344h3v2h-3zM184 344h3v2h-3zM192 344h3v2h-3zM200 344h3v2h-3zM208 344h3v2h-3zM216 344h3v2h-3zM162 346h3v2h-3zM170 346h3v2h-3zM178 346h3v2h-3zM186 346h3v2h-3zM194 346h3v2h-3zM202 346h3v2h-3zM210 346h3v2h-3zM218 346h3v2h-3zM164 348h3v2h-3zM172 348h3v2h-3zM180 348h3v2h-3zM188 348h3v2h-3zM196 348h3v2h-3zM204 348h3v2h-3zM212 348h3v2h-3zM166 350h3v2h-3zM174 350h3v2h-3zM182 350h3v2h-3zM190 350h3v2h-3zM198 350h3v2h-3zM206 350h3v2h-3zM214 350h3v2h-3z" fill="#00468c"/>
<rect x="220" y="344" width="8" height="8" fill="#0048c8"/>
<path d="M220 344h3v2h-3zM222 346h3v2h-3zM224 348h3v2h-3zM226 350h3v2h-3z" fill="#80a0e0"/>
<rect x="228" y="344" width="17" height="8" fill="#005000"/>
<rect x="245" y="344" width="10" height="8" fill="#005000"/>
<path d="M245 344h2v2h-2zM249 344h2v2h-2zM253 344h2v2h-2zM247 346h2v2h-2zM251 346h2v2h-2zM245 348h2v2h-2zM249 348h2v2h-2zM253 348h2v2h-2zM247 350h2v2h-2zM251 350h2v2h-2z" fill="#000000"/>
<rect x="255" y="344" width="30" height="8" fill="#007000"/>
<path d="M255 344h2v2h-2zM259 344h2v2h-2zM263 344h2v2h-2zM267 344h2v2h-2zM271 344h2v2h-2zM275 344h2v2h-2zM279 344h2v2h-2zM283 344h2v2h-2zM257 346h2v2h-2zM261 346h2v2h-2zM265 346h2v2h-2zM269 346h2v2h-2zM273 346h2v2h-2zM277 346h2v2h-2zM281 346h2v2h-2zM255 348h2v2h-2zM259 348h2v2h-2zM263 348h2v2h-2zM267 348h2v2h-2zM271 348h2v2h-2zM275 348h2v2h-2zM279 348h2v2h-2zM283 348h2v2h-2zM257 350h2v2h-2zM261 350h2v2h-2zM265 350h2v2h-2zM269 350h2v2h-2zM273 350h2v2h-2zM277 350h2v2h-2zM281 350h2v2h-2z" fill="#004a00"/>
<rect x="285" y="344" width="35" height="8" fill="#007800"/>
<rect x="320" y="344" width="10" height="8" fill="#007800"/>
<path d="M320 344h2v2h-2zM324 344h2v2h-2zM328 344h2v2h-2zM322 346h2v2h-2zM326 346h2v2h-2zM320 348h2v2h-2zM324 348h2v2h-2zM328 348h2v2h-2zM322 350h2v2h-2zM326 350h2v2h-2z" fill="#004a00"/>
<rect x="330" y="344" width="110" height="8" fill="#007000"/>
<path d="M331 344h2v8h-2zM335 344h2v8h-2zM339 344h2v8h-2zM343 344h2v8h-2zM347 344h2v8h-2zM351 344h2v8h-2zM355 344h2v8h-2zM359 344h2v8h-2zM363 344h2v8h-2zM367 344h2v8h-2zM371 344h2v8h-2zM375 344h2v8h-2zM379 344h2v8h-2zM383 344h2v8h-2zM387 344h2v8h-2zM391 344h2v8h-2zM395 344h2v8h-2zM399 344h2v8h-2zM403 344h2v8h-2zM407 344h2v8h-2zM411 344h2v8h-2zM415 344h2v8h-2zM419 344h2v8h-2zM423 344h2v8h-2zM427 344h2v8h-2zM431 344h2v8h-2zM435 344h2v8h-2zM439 344h2v8h-2z" fill="#004a00"/>
<rect x="440" y="344" width="40" height="8" fill="#007000"/>
<rect x="480" y="344" width="8" height="8" fill="#007000"/>
<path d="M480 344h2v2h-2zM484 344h2v2h-2zM482 346h2v2h-2zM486 346h2v2h-2zM480 348h2v2h-2zM484 348h2v2h-2zM482 350h2v2h-2zM486 350h2v2h-2z" fill="#00605a"/>
<rect x="488" y="344" width="32" height="8" fill="#007000"/>
<rect x="520" y="344" width="30" height="8" fill="#007c00"/>
<rect x="0" y="352" width="8" height="8" fill="#007000"/>
<rect x="8" y="352" width="8" height="8" fill="#007000"/>
<path d="M9 352h2v8h-2zM13 352h2v8h-2z" fill="#000000"/>
<rect x="16" y="352" width="54" height="8" fill="#007000"/>
<rect x="70" y="352" width="70" height="8" fill="#006800"/>
<rect x="140" y="352" width="20" height="8" fill="#008600"/>
<rect x="160" y="352" width="35" height="8" fill="#008600"/>
<path d="M160 352h3v2h-3zM168 352h3v2h-3zM176 352h3v2h-3zM184 352h3v2h-3zM192 352h3v2h-3zM162 354h3v2h-3zM170 354h3v2h-3zM178 354h3v2h-3zM186 354h3v2h-3zM194 354h3v2h-3zM164 356h3v2h-3zM172 356h3v2h-3zM180 356h3v2h-3zM188 356h3v2h-3zM166 358h3v2h-3zM174 358h3v2h-3zM182 358h3v2h-3zM190 358h3v2h-3z" fill="#004a00"/>
<rect x="195" y="352" width="29" height="8" fill="#008600"/>
<rect x="224" y="352" width="8" height="8" fill="#008600"/>
<path d="M225 352h2v8h-2zM229 352h2v8h-2z" fill="#000000"/>
<rect x="232" y="352" width="98" height="8" fill="#007000"/>
<rect x="330" y="352" width="70" height="8" fill="#007800"/>
<path d="M330 352h3v2h-3zM338 352h3v2h-3zM346 352h3v2h-3zM354 352h3v2h-3zM362 352h3v2h-3zM370 352h3v2h-3zM378 352h3v2h-3zM386 352h3v2h-3zM394 352h3v2h-3zM332 354h3v2h-3zM340 354h3v2h-3zM348 354h3v2h-3zM356 354h3v2h-3zM364 354h3v2h-3zM372 354h3v2h-3zM380 354h3v2h-3zM388 354h3v2h-3zM396 354h3v2h-3zM334 356h3v2h-3zM342 356h3v2h-3zM350 356h3v2h-3zM358 356h3v2h-3zM366 356h3v2h-3zM374 356h3v2h-3zM382 356h3v2h-3zM390 356h3v2h-3zM398 356h3v2h-3zM336 358h3v2h-3zM344 358h3v2h-3zM352 358h3v2h-3zM360 358h3v2h-3zM368 358h3v2h-3zM376 358h3v2h-3zM384 358h3v2h-3zM392 358h3v2h-3z" fill="#004a00"/>
<rect x="400" y="352" width="40" height="8" fill="#007800"/>
<rect x="440" y="352" width="64" height="8" fill="#008600"/>
<rect x="504" y="352" width="8" height="8" fill="#008600"/>
<path d="M504 353h8v2h-8zM504 357h8v2h-8z" fill="#004a00"/>
<rect x="512" y="352" width="38" height="8" fill="#008600"/>
<rect x="0" y="360" width="64" height="8" fill="#008600"/>
<rect x="64" y="360" width="8" height="8" fill="#0040c0"/>
<path d="M64 360h2v2h-2zM68 360h2v2h-2zM66 362h2v2h-2zM70 362h2v2h-2zM64 364h2v2h-2zM68 364h2v2h-2zM66 366h2v2h-2zM70 366h2v2h-2z" fill="#000000"/>
<rect x="72" y="360" width="124" height="8" fill="#008600"/>
<rect x="196" y="360" width="14" height="8" fill="#008600"/>
<path d="M196 360h2v2h-2zM200 360h2v2h-2zM204 360h2v2h-2zM208 360h2v2h-2zM198 362h2v2h-2zM202 362h2v2h-2zM206 362h2v2h-2zM196 364h2v2h-2zM200 364h2v2h-2zM204 364h2v2h-2zM208 364h2v2h-2zM198 366h2v2h-2zM202 366h2v2h-2zM206 366h2v2h-2z" fill="#004a00"/>
<rect x="210" y="360" width="10" height="8" fill="#006800"/>
<rect x="220" y="360" width="50" height="8" fill="#005800"/>
<path d="M220 360h2v2h-2zM224 360h2v2h-2zM228 360h2v2h-2zM232 360h2v2h-2zM236 360h2v2h-2zM240 360h2v2h-2zM244 360h2v2h-2zM248 360h2v2h-2zM252 360h2v2h-2zM256 360h2v2h-2zM260 360h2v2h-2zM264 360h2v2h-2zM268 360h2v2h-2zM222 362h2v2h-2zM226 362h2v2h-2zM230 362h2v2h-2zM234 362h2v2h-2zM238 362h2v2h-2zM242 362h2v2h-2zM246 362h2v2h-2zM250 362h2v2h-2zM254 362h2v2h-2zM258 362h2v2h-2zM262 362h2v2h-2zM266 362h2v2h-2zM220 364h2v2h-2zM224 364h2v2h-2zM228 364h2v2h-2zM232 364h2v2h-2zM236 364h2v2h-2zM240 364h2v2h-2zM244 364h2v2h-2zM248 364h2v2h-2zM252 364h2v2h-2zM256 364h2v2h-2zM260 364h2v2h-2zM264 364h2v2h-2zM268 364h2v2h-2zM222 366h2v2h-2zM226 366h2v2h-2zM230 366h2v2h-2zM234 366h2v2h-2zM238 366h2v2h-2zM242 366h2v2h-2zM246 366h2v2h-2zM250 366h2v2h-2zM254 366h2v2h-2zM258 366h2v2h-2zM262 366h2v2h-2zM266 366h2v2h-2z" fill="#003800"/>
<rect x="270" y="360" width="20" height="8" fill="#404000"/>
<path d="M271 360h2v8h-2zM275 360h2v8h-2zM279 360h2v8h-2zM283 360h2v8h-2zM287 360h2v8h-2z" fill="#601000"/>
<rect x="290" y="360" width="40" height="8" fill="#601000"/>
<path d="M291 360h2v8h-2zM295 360h2v8h-2zM299 360h2v8h-2zM303 360h2v8h-2zM307 360h2v8h-2zM311 360h2v8h-2zM315 360h2v8h-2zM319 360h2v8h-2zM323 360h2v8h-2zM327 360h2v8h-2z" fill="#106010"/>
<rect x="330" y="360" width="110" height="8" fill="#5a1000"/>
<path d="M331 360h2v8h-2zM335 360h2v8h-2zM339 360h2v8h-2zM343 360h2v8h-2zM347 360h2v8h-2zM351 360h2v8h-2zM355 360h2v8h-2zM359 360h2v8h-2zM363 360h2v8h-2zM367 360h2v8h-2zM371 360h2v8h-2zM375 360h2v8h-2zM379 360h2v8h-2zM383 360h2v8h-2zM387 360h2v8h-2zM391 360h2v8h-2zM395 360h2v8h-2zM399 360h2v8h-2zM403 360h2v8h-2zM407 360h2v8h-2zM411 360h2v8h-2zM415 360h2v8h-2zM419 360h2v8h-2zM423 360h2v8h-2zM427 360h2v8h-2zM431 360h2v8h-2zM435 360h2v8h-2zM439 360h2v8h-2z" fill="#0a4000"/>
<rect x="440" y="360" width="8" height="8" fill="#a02020"/>
<path d="M440 360h2v2h-2zM444 360h2v2h-2zM442 362h2v2h-2zM446 362h2v2h-2zM440 364h2v2h-2zM444 364h2v2h-2zM442 366h2v2h-2zM446 366h2v2h-2z" fill="#108010"/>
<rect x="448" y="360" width="32" height="8" fill="#402000"/>
<rect x="480" y="360" width="16" height="8" fill="#a02020"/>
<path d="M480 360h2v2h-2zM484 360h2v2h-2zM488 360h2v2h-2zM492 360h2v2h-2zM482 362h2v2h-2zM486 362h2v2h-2zM490 362h2v2h-2zM494 362h2v2h-2zM480 364h2v2h-2zM484 364h2v2h-2zM488 364h2v2h-2zM492 364h2v2h-2zM482 366h2v2h-2zM486 366h2v2h-2zM490 366h2v2h-2zM494 366h2v2h-2z" fill="#108010"/>
<rect x="496" y="360" width="24" height="8" fill="#3a2000"/>
<rect x="520" y="360" width="10" height="8" fill="#a02020"/>
<path d="M521 360h2v8h-2zM525 360h2v8h-2zM529 360h2v8h-2z" fill="#108010"/>
<rect x="530" y="360" width="20" height="8" fill="#402000"/>
<rect x="0" y="368" width="16" height="8" fill="#501800"/>
<rect x="16" y="368" width="8" height="8" fill="#a02020"/>
<path d="M16 368h2v2h-2zM20 368h2v2h-2zM18 370h2v2h-2zM22 370h2v2h-2zM16 372h2v2h-2zM20 372h2v2h-2zM18 374h2v2h-2zM22 374h2v2h-2z" fill="#108010"/>
<rect x="24" y="368" width="86" height="8" fill="#501800"/>
<rect x="110" y="368" width="50" height="8" fill="#501800"/>
<path d="M110 368h3v2h-3zM118 368h3v2h-3zM126 368h3v2h-3zM134 368h3v2h-3zM142 368h3v2h-3zM150 368h3v2h-3zM158 368h3v2h-3zM112 370h3v2h-3zM120 370h3v2h-3zM128 370h3v2h-3zM136 370h3v2h-3zM144 370h3v2h-3zM152 370h3v2h-3zM114 372h3v2h-3zM122 372h3v2h-3zM130 372h3v2h-3zM138 372h3v2h-3zM146 372h3v2h-3zM154 372h3v2h-3zM116 374h3v2h-3zM124 374h3v2h-3zM132 374h3v2h-3zM140 374h3v2h-3zM148 374h3v2h-3zM156 374h3v2h-3z" fill="#802000"/>
<rect x="160" y="368" width="40" height="8" fill="#800000"/>
<rect x="200" y="368" width="25" height="8" fill="#900000"/>
<rect x="225" y="368" width="45" height="8" fill="#800000"/>
<path d="M225 368h3v2h-3zM233 368h3v2h-3zM241 368h3v2h-3zM249 368h3v2h-3zM257 368h3v2h-3zM265 368h3v2h-3zM227 370h3v2h-3zM235 370h3v2h-3zM243 370h3v2h-3zM251 370h3v2h-3zM259 370h3v2h-3zM267 370h3v2h-3zM229 372h3v2h-3zM237 372h3v2h-3zM245 372h3v2h-3zM253 372h3v2h-3zM261 372h3v2h-3zM269 372h3v2h-3zM231 374h3v2h-3zM239 374h3v2h-3zM247 374h3v2h-3zM255 374h3v2h-3zM263 374h3v2h-3z" fill="#a01010"/>
<rect x="270" y="368" width="15" height="8" fill="#500c00"/>
<rect x="285" y="368" width="10" height="8" fill="#500c00"/>
<path d="M286 368h2v8h-2zM290 368h2v8h-2zM294 368h2v8h-2z" fill="#108010"/>
<rect x="295" y="368" width="35" height="8" fill="#500c00"/>
<rect x="330" y="368" width="110" height="8" fill="#5c1000"/>
<path d="M330 368h3v2h-3zM338 368h3v2h-3zM346 368h3v2h-3zM354 368h3v2h-3zM362 368h3v2h-3zM370 368h3v2h-3zM378 368h3v2h-3zM386 368h3v2h-3zM394 368h3v2h-3zM402 368h3v2h-3zM410 368h3v2h-3zM418 368h3v2h-3zM426 368h3v2h-3zM434 368h3v2h-3zM332 370h3v2h-3zM340 370h3v2h-3zM348 370h3v2h-3zM356 370h3v2h-3zM364 370h3v2h-3zM372 370h3v2h-3zM380 370h3v2h-3zM388 370h3v2h-3zM396 370h3v2h-3zM404 370h3v2h-3zM412 370h3v2h-3zM420 370h3v2h-3zM428 370h3v2h-3zM436 370h3v2h-3zM334 372h3v2h-3zM342 372h3v2h-3zM350 372h3v2h-3zM358 372h3v2h-3zM366 372h3v2h-3zM374 372h3v2h-3zM382 372h3v2h-3zM390 372h3v2h-3zM398 372h3v2h-3zM406 372h3v2h-3zM414 372h3v2h-3zM422 372h3v2h-3zM430 372h3v2h-3zM438 372h3v2h-3zM336 374h3v2h-3zM344 374h3v2h-3zM352 374h3v2h-3zM360 374h3v2h-3zM368 374h3v2h-3zM376 374h3v2h-3zM384 374h3v2h-3zM392 374h3v2h-3zM400 374h3v2h-3zM408 374h3v2h-3zM416 374h3v2h-3zM424 374h3v2h-3zM432 374h3v2h-3z" fill="#7a2800"/>
<rect x="440" y="368" width="8" height="8" fill="#e04040"/>
<rect x="448" y="368" width="102" height="8" fill="#401800"/>
<rect x="0" y="376" width="40" height="8" fill="#401800"/>
<rect x="40" y="376" width="70" height="8" fill="#303000"/>
<rect x="110" y="376" width="50" height="8" fill="#302800"/>
<path d="M110 376h2v2h-2zM114 376h2v2h-2zM118 376h2v2h-2zM122 376h2v2h-2zM126 376h2v2h-2zM130 376h2v2h-2zM134 376h2v2h-2zM138 376h2v2h-2zM142 376h2v2h-2zM146 376h2v2h-2zM150 376h2v2h-2zM154 376h2v2h-2zM158 376h2v2h-2zM112 378h2v2h-2zM116 378h2v2h-2zM120 378h2v2h-2zM124 378h2v2h-2zM128 378h2v2h-2zM132 378h2v2h-2zM136 378h2v2h-2zM140 378h2v2h-2zM144 378h2v2h-2zM148 378h2v2h-2zM152 378h2v2h-2zM156 378h2v2h-2zM110 380h2v2h-2zM114 380h2v2h-2zM118 380h2v2h-2zM122 380h2v2h-2zM126 380h2v2h-2zM130 380h2v2h-2zM134 380h2v2h-2zM138 380h2v2h-2zM142 380h2v2h-2zM146 380h2v2h-2zM150 380h2v2h-2zM154 380h2v2h-2zM158 380h2v2h-2zM112 382h2v2h-2zM116 382h2v2h-2zM120 382h2v2h-2zM124 382h2v2h-2zM128 382h2v2h-2zM132 382h2v2h-2zM136 382h2v2h-2zM140 382h2v2h-2zM144 382h2v2h-2zM148 382h2v2h-2zM152 382h2v2h-2zM156 382h2v2h-2z" fill="#004a00"/>
<rect x="160" y="376" width="40" height="8" fill="#601000"/>
<path d="M160 376h3v2h-3zM168 376h3v2h-3zM176 376h3v2h-3zM184 376h3v2h-3zM192 376h3v2h-3zM162 378h3v2h-3zM170 378h3v2h-3zM178 378h3v2h-3zM186 378h3v2h-3zM194 378h3v2h-3zM164 380h3v2h-3zM172 380h3v2h-3zM180 380h3v2h-3zM188 380h3v2h-3zM196 380h3v2h-3zM166 382h3v2h-3zM174 382h3v2h-3zM182 382h3v2h-3zM190 382h3v2h-3zM198 382h3v2h-3z" fill="#0a4000"/>
<rect x="200" y="376" width="20" height="8" fill="#700800"/>
<rect x="220" y="376" width="30" height="8" fill="#601000"/>
<rect x="250" y="376" width="40" height="8" fill="#303000"/>
<rect x="290" y="376" width="40" height="8" fill="#501000"/>
<path d="M290 376h2v2h-2zM294 376h2v2h-2zM298 376h2v2h-2zM302 376h2v2h-2zM306 376h2v2h-2zM310 376h2v2h-2zM314 376h2v2h-2zM318 376h2v2h-2zM322 376h2v2h-2zM326 376h2v2h-2zM292 378h2v2h-2zM296 378h2v2h-2zM300 378h2v2h-2zM304 378h2v2h-2zM308 378h2v2h-2zM312 378h2v2h-2zM316 378h2v2h-2zM320 378h2v2h-2zM324 378h2v2h-2zM328 378h2v2h-2zM290 380h2v2h-2zM294 380h2v2h-2zM298 380h2v2h-2zM302 380h2v2h-2zM306 380h2v2h-2zM310 380h2v2h-2zM314 380h2v2h-2zM318 380h2v2h-2zM322 380h2v2h-2zM326 380h2v2h-2zM292 382h2v2h-2zM296 382h2v2h-2zM300 382h2v2h-2zM304 382h2v2h-2zM308 382h2v2h-2zM312 382h2v2h-2zM316 382h2v2h-2zM320 382h2v2h-2zM324 382h2v2h-2zM328 382h2v2h-2z" fill="#004a00"/>
<rect x="330" y="376" width="6" height="8" fill="#083800"/>
<rect x="336" y="376" width="8" height="8" fill="#c01010"/>
<path d="M336 376h2v2h-2zM340 376h2v2h-2zM338 378h2v2h-2zM342 378h2v2h-2zM336 380h2v2h-2zM340 380h2v2h-2zM338 382h2v2h-2zM342 382h2v2h-2z" fill="#108010"/>
<rect x="344" y="376" width="16" height="8" fill="#083800"/>
<rect x="360" y="376" width="8" height="8" fill="#c01010"/>
<path d="M360 376h2v2h-2zM364 376h2v2h-2zM362 378h2v2h-2zM366 378h2v2h-2zM360 380h2v2h-2zM364 380h2v2h-2zM362 382h2v2h-2zM366 382h2v2h-2z" fill="#108010"/>
<rect x="368" y="376" width="72" height="8" fill="#0a4000"/>
<path d="M368 377h72v2h-72zM368 381h72v2h-72z" fill="#208020"/>
<rect x="440" y="376" width="60" height="8" fill="#0a4000"/>
<path d="M440 376h3v2h-3zM448 376h3v2h-3zM456 376h3v2h-3zM464 376h3v2h-3zM472 376h3v2h-3zM480 376h3v2h-3zM488 376h3v2h-3zM496 376h3v2h-3zM442 378h3v2h-3zM450 378h3v2h-3zM458 378h3v2h-3zM466 378h3v2h-3zM474 378h3v2h-3zM482 378h3v2h-3zM490 378h3v2h-3zM498 378h3v2h-3zM444 380h3v2h-3zM452 380h3v2h-3zM460 380h3v2h-3zM468 380h3v2h-3zM476 380h3v2h-3zM484 380h3v2h-3zM492 380h3v2h-3zM446 382h3v2h-3zM454 382h3v2h-3zM462 382h3v2h-3zM470 382h3v2h-3zM478 382h3v2h-3zM486 382h3v2h-3zM494 382h3v2h-3z" fill="#208020"/>
<rect x="500" y="376" width="50" height="8" fill="#0a4000"/>
<path d="M500 376h2v2h-2zM504 376h2v2h-2zM508 376h2v2h-2zM512 376h2v2h-2zM516 376h2v2h-2zM520 376h2v2h-2zM524 376h2v2h-2zM528 376h2v2h-2zM532 376h2v2h-2zM536 376h2v2h-2zM540 376h2v2h-2zM544 376h2v2h-2zM548 376h2v2h-2zM502 378h2v2h-2zM506 378h2v2h-2zM510 378h2v2h-2zM514 378h2v2h-2zM518 378h2v2h-2zM522 378h2v2h-2zM526 378h2v2h-2zM530 378h2v2h-2zM534 378h2v2h-2zM538 378h2v2h-2zM542 378h2v2h-2zM546 378h2v2h-2zM500 380h2v2h-2zM504 380h2v2h-2zM508 380h2v2h-2zM512 380h2v2h-2zM516 380h2v2h-2zM520 380h2v2h-2zM524 380h2v2h-2zM528 380h2v2h-2zM532 380h2v2h-2zM536 380h2v2h-2zM540 380h2v2h-2zM544 380h2v2h-2zM548 380h2v2h-2zM502 382h2v2h-2zM506 382h2v2h-2zM510 382h2v2h-2zM514 382h2v2h-2zM518 382h2v2h-2zM522 382h2v2h-2zM526 382h2v2h-2zM530 382h2v2h-2zM534 382h2v2h-2zM538 382h2v2h-2zM542 382h2v2h-2zM546 382h2v2h-2z" fill="#601000"/>
<rect x="0" y="384" width="16" height="8" fill="#084000"/>
<rect x="16" y="384" width="24" height="8" fill="#084000"/>
<path d="M17 384h2v8h-2zM21 384h2v8h-2zM25 384h2v8h-2zM29 384h2v8h-2zM33 384h2v8h-2zM37 384h2v8h-2z" fill="#208020"/>
<rect x="40" y="384" width="32" height="8" fill="#084000"/>
<rect x="72" y="384" width="16" height="8" fill="#20a020"/>
<path d="M72 384h2v2h-2zM76 384h2v2h-2zM80 384h2v2h-2zM84 384h2v2h-2zM74 386h2v2h-2zM78 386h2v2h-2zM82 386h2v2h-2zM86 386h2v2h-2zM72 388h2v2h-2zM76 388h2v2h-2zM80 388h2v2h-2zM84 388h2v2h-2zM74 390h2v2h-2zM78 390h2v2h-2zM82 390h2v2h-2zM86 390h2v2h-2z" fill="#c01010"/>
<rect x="88" y="384" width="22" height="8" fill="#401800"/>
<rect x="110" y="384" width="50" height="8" fill="#0a3800"/>
<rect x="160" y="384" width="40" height="8" fill="#0a3800"/>
<path d="M160 384h2v2h-2zM164 384h2v2h-2zM168 384h2v2h-2zM172 384h2v2h-2zM176 384h2v2h-2zM180 384h2v2h-2zM184 384h2v2h-2zM188 384h2v2h-2zM192 384h2v2h-2zM196 384h2v2h-2zM162 386h2v2h-2zM166 386h2v2h-2zM170 386h2v2h-2zM174 386h2v2h-2zM178 386h2v2h-2zM182 386h2v2h-2zM186 386h2v2h-2zM190 386h2v2h-2zM194 386h2v2h-2zM198 386h2v2h-2zM160 388h2v2h-2zM164 388h2v2h-2zM168 388h2v2h-2zM172 388h2v2h-2zM176 388h2v2h-2zM180 388h2v2h-2zM184 388h2v2h-2zM188 388h2v2h-2zM192 388h2v2h-2zM196 388h2v2h-2zM162 390h2v2h-2zM166 390h2v2h-2zM170 390h2v2h-2zM174 390h2v2h-2zM178 390h2v2h-2zM182 390h2v2h-2zM186 390h2v2h-2zM190 390h2v2h-2zM194 390h2v2h-2zM198 390h2v2h-2z" fill="#601000"/>
<rect x="200" y="384" width="76" height="8" fill="#b40000"/>
<rect x="276" y="384" width="274" height="8" fill="#b80000"/>
<rect x="0" y="392" width="550" height="16" fill="#b80000"/>
<rect x="0" y="408" width="32" height="8" fill="#a00000"/>
<path d="M0 408h2v2h-2zM4 408h2v2h-2zM8 408h2v2h-2zM12 408h2v2h-2zM16 408h2v2h-2zM20 408h2v2h-2zM24 408h2v2h-2zM28 408h2v2h-2zM2 410h2v2h-2zM6 410h2v2h-2zM10 410h2v2h-2zM14 410h2v2h-2zM18 410h2v2h-2zM22 410h2v2h-2zM26 410h2v2h-2zM30 410h2v2h-2zM0 412h2v2h-2zM4 412h2v2h-2zM8 412h2v2h-2zM12 412h2v2h-2zM16 412h2v2h-2zM20 412h2v2h-2zM24 412h2v2h-2zM28 412h2v2h-2zM2 414h2v2h-2zM6 414h2v2h-2zM10 414h2v2h-2zM14 414h2v2h-2zM18 414h2v2h-2zM22 414h2v2h-2zM26 414h2v2h-2zM30 414h2v2h-2z" fill="#800000"/>
<rect x="32" y="408" width="68" height="8" fill="#a80000"/>
<rect x="100" y="408" width="50" height="8" fill="#a00000"/>
<path d="M100 408h2v2h-2zM104 408h2v2h-2zM108 408h2v2h-2zM112 408h2v2h-2zM116 408h2v2h-2zM120 408h2v2h-2zM124 408h2v2h-2zM128 408h2v2h-2zM132 408h2v2h-2zM136 408h2v2h-2zM140 408h2v2h-2zM144 408h2v2h-2zM148 408h2v2h-2zM102 410h2v2h-2zM106 410h2v2h-2zM110 410h2v2h-2zM114 410h2v2h-2zM118 410h2v2h-2zM122 410h2v2h-2zM126 410h2v2h-2zM130 410h2v2h-2zM134 410h2v2h-2zM138 410h2v2h-2zM142 410h2v2h-2zM146 410h2v2h-2zM100 412h2v2h-2zM104 412h2v2h-2zM108 412h2v2h-2zM112 412h2v2h-2zM116 412h2v2h-2zM120 412h2v2h-2zM124 412h2v2h-2zM128 412h2v2h-2zM132 412h2v2h-2zM136 412h2v2h-2zM140 412h2v2h-2zM144 412h2v2h-2zM148 412h2v2h-2zM102 414h2v2h-2zM106 414h2v2h-2zM110 414h2v2h-2zM114 414h2v2h-2zM118 414h2v2h-2zM122 414h2v2h-2zM126 414h2v2h-2zM130 414h2v2h-2zM134 414h2v2h-2zM138 414h2v2h-2zM142 414h2v2h-2zM146 414h2v2h-2z" fill="#800000"/>
<rect x="150" y="408" width="82" height="8" fill="#a80000"/>
<rect x="232" y="408" width="28" height="8" fill="#900000"/>
<rect x="260" y="408" width="30" height="8" fill="#900000"/>
<path d="M260 408h3v2h-3zM268 408h3v2h-3zM276 408h3v2h-3zM284 408h3v2h-3zM262 410h3v2h-3zM270 410h3v2h-3zM278 410h3v2h-3zM286 410h3v2h-3zM264 412h3v2h-3zM272 412h3v2h-3zM280 412h3v2h-3zM288 412h3v2h-3zM266 414h3v2h-3zM274 414h3v2h-3zM282 414h3v2h-3z" fill="#106010"/>
<rect x="290" y="408" width="30" height="8" fill="#700000"/>
<rect x="320" y="408" width="10" height="8" fill="#b00000"/>
<rect x="330" y="408" width="110" height="8" fill="#800000"/>
<path d="M330 408h2v2h-2zM334 408h2v2h-2zM338 408h2v2h-2zM342 408h2v2h-2zM346 408h2v2h-2zM350 408h2v2h-2zM354 408h2v2h-2zM358 408h2v2h-2zM362 408h2v2h-2zM366 408h2v2h-2zM370 408h2v2h-2zM374 408h2v2h-2zM378 408h2v2h-2zM382 408h2v2h-2zM386 408h2v2h-2zM390 408h2v2h-2zM394 408h2v2h-2zM398 408h2v2h-2zM402 408h2v2h-2zM406 408h2v2h-2zM410 408h2v2h-2zM414 408h2v2h-2zM418 408h2v2h-2zM422 408h2v2h-2zM426 408h2v2h-2zM430 408h2v2h-2zM434 408h2v2h-2zM438 408h2v2h-2zM332 410h2v2h-2zM336 410h2v2h-2zM340 410h2v2h-2zM344 410h2v2h-2zM348 410h2v2h-2zM352 410h2v2h-2zM356 410h2v2h-2zM360 410h2v2h-2zM364 410h2v2h-2zM368 410h2v2h-2zM372 410h2v2h-2zM376 410h2v2h-2zM380 410h2v2h-2zM384 410h2v2h-2zM388 410h2v2h-2zM392 410h2v2h-2zM396 410h2v2h-2zM400 410h2v2h-2zM404 410h2v2h-2zM408 410h2v2h-2zM412 410h2v2h-2zM416 410h2v2h-2zM420 410h2v2h-2zM424 410h2v2h-2zM428 410h2v2h-2zM432 410h2v2h-2zM436 410h2v2h-2zM330 412h2v2h-2zM334 412h2v2h-2zM338 412h2v2h-2zM342 412h2v2h-2zM346 412h2v2h-2zM350 412h2v2h-2zM354 412h2v2h-2zM358 412h2v2h-2zM362 412h2v2h-2zM366 412h2v2h-2zM370 412h2v2h-2zM374 412h2v2h-2zM378 412h2v2h-2zM382 412h2v2h-2zM386 412h2v2h-2zM390 412h2v2h-2zM394 412h2v2h-2zM398 412h2v2h-2zM402 412h2v2h-2zM406 412h2v2h-2zM410 412h2v2h-2zM414 412h2v2h-2zM418 412h2v2h-2zM422 412h2v2h-2zM426 412h2v2h-2zM430 412h2v2h-2zM434 412h2v2h-2zM438 412h2v2h-2zM332 414h2v2h-2zM336 414h2v2h-2zM340 414h2v2h-2zM344 414h2v2h-2zM348 414h2v2h-2zM352 414h2v2h-2zM356 414h2v2h-2zM360 414h2v2h-2zM364 414h2v2h-2zM368 414h2v2h-2zM372 414h2v2h-2zM376 414h2v2h-2zM380 414h2v2h-2zM384 414h2v2h-2zM388 414h2v2h-2zM392 414h2v2h-2zM396 414h2v2h-2zM400 414h2v2h-2zM404 414h2v2h-2zM408 414h2v2h-2zM412 414h2v2h-2zM416 414h2v2h-2zM420 414h2v2h-2zM424 414h2v2h-2zM428 414h2v2h-2zM432 414h2v2h-2zM436 414h2v2h-2z" fill="#500800"/>
<rect x="440" y="408" width="110" height="8" fill="#500800"/>
<path d="M440 408h2v2h-2zM444 408h2v2h-2zM448 408h2v2h-2zM452 408h2v2h-2zM456 408h2v2h-2zM460 408h2v2h-2zM464 408h2v2h-2zM468 408h2v2h-2zM472 408h2v2h-2zM476 408h2v2h-2zM480 408h2v2h-2zM484 408h2v2h-2zM488 408h2v2h-2zM492 408h2v2h-2zM496 408h2v2h-2zM500 408h2v2h-2zM504 408h2v2h-2zM508 408h2v2h-2zM512 408h2v2h-2zM516 408h2v2h-2zM520 408h2v2h-2zM524 408h2v2h-2zM528 408h2v2h-2zM532 408h2v2h-2zM536 408h2v2h-2zM540 408h2v2h-2zM544 408h2v2h-2zM548 408h2v2h-2zM442 410h2v2h-2zM446 410h2v2h-2zM450 410h2v2h-2zM454 410h2v2h-2zM458 410h2v2h-2zM462 410h2v2h-2zM466 410h2v2h-2zM470 410h2v2h-2zM474 410h2v2h-2zM478 410h2v2h-2zM482 410h2v2h-2zM486 410h2v2h-2zM490 410h2v2h-2zM494 410h2v2h-2zM498 410h2v2h-2zM502 410h2v2h-2zM506 410h2v2h-2zM510 410h2v2h-2zM514 410h2v2h-2zM518 410h2v2h-2zM522 410h2v2h-2zM526 410h2v2h-2zM530 410h2v2h-2zM534 410h2v2h-2zM538 410h2v2h-2zM542 410h2v2h-2zM546 410h2v2h-2zM440 412h2v2h-2zM444 412h2v2h-2zM448 412h2v2h-2zM452 412h2v2h-2zM456 412h2v2h-2zM460 412h2v2h-2zM464 412h2v2h-2zM468 412h2v2h-2zM472 412h2v2h-2zM476 412h2v2h-2zM480 412h2v2h-2zM484 412h2v2h-2zM488 412h2v2h-2zM492 412h2v2h-2zM496 412h2v2h-2zM500 412h2v2h-2zM504 412h2v2h-2zM508 412h2v2h-2zM512 412h2v2h-2zM516 412h2v2h-2zM520 412h2v2h-2zM524 412h2v2h-2zM528 412h2v2h-2zM532 412h2v2h-2zM536 412h2v2h-2zM540 412h2v2h-2zM544 412h2v2h-2zM548 412h2v2h-2zM442 414h2v2h-2zM446 414h2v2h-2zM450 414h2v2h-2zM454 414h2v2h-2zM458 414h2v2h-2zM462 414h2v2h-2zM466 414h2v2h-2zM470 414h2v2h-2zM474 414h2v2h-2zM478 414h2v2h-2zM482 414h2v2h-2zM486 414h2v2h-2zM490 414h2v2h-2zM494 414h2v2h-2zM498 414h2v2h-2zM502 414h2v2h-2zM506 414h2v2h-2zM510 414h2v2h-2zM514 414h2v2h-2zM518 414h2v2h-2zM522 414h2v2h-2zM526 414h2v2h-2zM530 414h2v2h-2zM534 414h2v2h-2zM538 414h2v2h-2zM542 414h2v2h-2zM546 414h2v2h-2z" fill="#802000"/>
<rect x="0" y="416" width="60" height="2" fill="#202800"/>
<rect x="60" y="416" width="60" height="2" fill="#401000"/>
<rect x="120" y="416" width="100" height="2" fill="#0a4000"/>
<rect x="220" y="416" width="70" height="2" fill="#501000"/>
<rect x="290" y="416" width="260" height="2" fill="#0a4000"/>
<rect x="72" y="300" width="3" height="2" fill="#006000"/>
<rect x="50" y="318" width="3" height="2" fill="#006000"/>
<rect x="88" y="315" width="3" height="2" fill="#20c020"/>
<rect x="98" y="292" width="3" height="2" fill="#20c020"/>
<rect x="170" y="296" width="3" height="2" fill="#005800"/>
<rect x="196" y="300" width="3" height="2" fill="#005800"/>
<rect x="233" y="301" width="3" height="2" fill="#20c020"/>
<rect x="288" y="296" width="3" height="2" fill="#004800"/>
<rect x="292" y="300" width="3" height="2" fill="#004800"/>
<rect x="330" y="306" width="3" height="2" fill="#005000"/>
<rect x="334" y="310" width="3" height="2" fill="#005000"/>
<rect x="388" y="299" width="3" height="2" fill="#005000"/>
<rect x="316" y="321" width="3" height="2" fill="#006000"/>
<rect x="372" y="322" width="3" height="2" fill="#006000"/>
<rect x="409" y="322" width="3" height="2" fill="#004800"/>
<rect x="318" y="292" width="3" height="2" fill="#a01010"/>
<rect x="478" y="308" width="3" height="2" fill="#005000"/>
<rect x="500" y="316" width="3" height="2" fill="#004800"/>
<rect x="504" y="318" width="3" height="2" fill="#004800"/>
<rect x="530" y="294" width="3" height="2" fill="#005000"/>
<rect x="488" y="292" width="3" height="2" fill="#005800"/>
<rect x="492" y="296" width="3" height="2" fill="#005800"/>
<rect x="412" y="320" width="3" height="2" fill="#005000"/>
</svg></body></html>
